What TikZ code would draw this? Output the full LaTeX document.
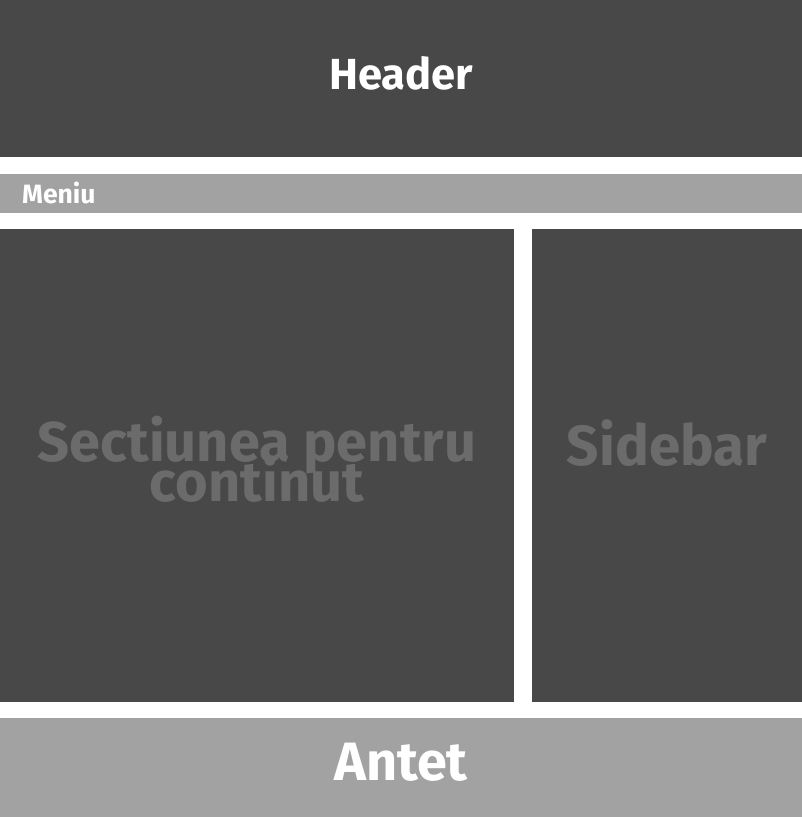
\documentclass[tikz,border=0pt]{standalone}
\usepackage{fontspec}
\setmainfont{Fira Sans}
\usepackage{xcolor}
\usepackage{tikz}
\usetikzlibrary{positioning}

\definecolor{boxdark}{HTML}{484848}
\definecolor{boxlight}{HTML}{A2A2A2}
\definecolor{labelgray}{HTML}{6B6B6B}

\begin{document}
\begin{tikzpicture}[x=1pt, y=1pt,
    box/.style={inner sep=0pt, outer sep=0pt, anchor=north west},
    darkbox/.style={box, fill=boxdark},
    lightbox/.style={box, fill=boxlight},
    title/.style={inner sep=0pt, anchor=base, text=white},
    dimtitle/.style={inner sep=0pt, text=labelgray, align=center}]

\useasboundingbox (0,0) rectangle (802,-817);

% MAIN BOXES
\node[darkbox, minimum width=802pt, minimum height=157pt] (header) at (0,0) {};
\node[lightbox, minimum width=802pt, minimum height=39pt,
      below=17pt of header.south west, anchor=north west] (meniu) {};
\node[darkbox, minimum width=514pt, minimum height=473pt,
      below=16pt of meniu.south west, anchor=north west] (content) {};
\node[darkbox, minimum width=270pt, minimum height=473pt,
      right=18pt of content.north east, anchor=north west] (sidebar) {};
\node[lightbox, minimum width=802pt, minimum height=99pt,
      below=16pt of content.south west, anchor=north west] (antet) {};

% LABELS
\node[title, font=\fontsize{43.5}{44}\selectfont\bfseries]
  (headerlabel) at ([yshift=-89pt]header.north) {Header};
\node[title, anchor=base west, font=\fontsize{26.5}{27}\selectfont\bfseries]
  (meniulabel) at ([xshift=22pt, yshift=-29pt]meniu.north west) {Meniu};
\node[dimtitle, font={\fontsize{56}{40}\selectfont\bfseries\lineskiplimit-100pt\relax}]
  (contentlabel) at ([yshift=6pt]content.center) {Sectiunea pentru\\continut};
\node[dimtitle, anchor=base, font=\fontsize{56.5}{57}\selectfont\bfseries]
  (sidebarlabel) at ([yshift=-236pt]sidebar.north) {Sidebar};
\node[title, font=\fontsize{54}{54}\selectfont\bfseries]
  (antetlabel) at ([yshift=-62pt]antet.north) {Antet};

\end{tikzpicture}
\end{document}
